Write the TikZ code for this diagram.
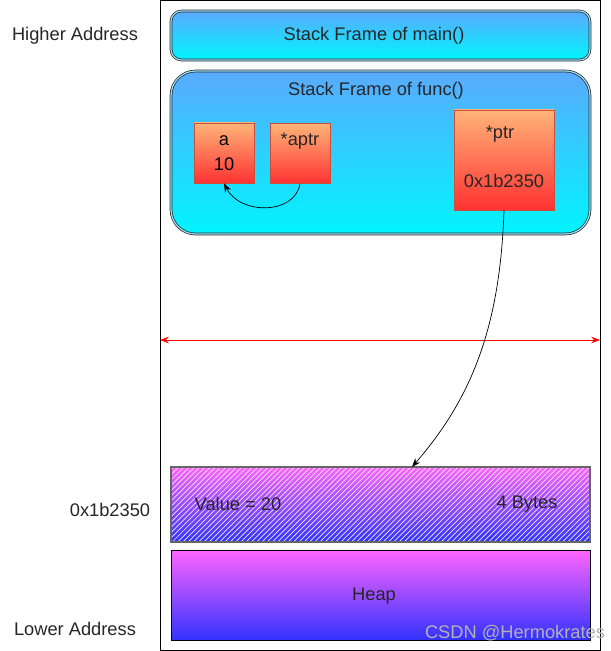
\documentclass[tikz,border=0pt]{standalone}
\usepackage{fontspec}
\setmainfont{Liberation Sans}
\usetikzlibrary{patterns,arrows.meta}
\begin{document}
\begin{tikzpicture}[x=0.02cm,y=-0.02cm,font=\fontsize{10.4}{12}\selectfont,
  frame/.style={draw=black!85,double=cyan!40,double distance=0.7pt,rounded corners=#1,top color={rgb,255:red,90;green,170;blue,255},bottom color={rgb,255:red,0;green,245;blue,255}},
  var/.style={draw={rgb,255:red,200;green,80;blue,60},top color={rgb,255:red,255;green,180;blue,120},bottom color={rgb,255:red,255;green,50;blue,50},minimum width=#1*0.02cm,minimum height=#1*0.02cm,inner sep=0},
  heap/.style={draw=black,top color={rgb,255:red,255;green,100;blue,255},bottom color={rgb,255:red,50;green,50;blue,255}},
  lab/.style={text=black!85}]
\useasboundingbox (0,0) rectangle (610,651);
\draw[black] (160,0) rectangle (600,650);
\draw[frame=6pt] (171,11) rectangle (590,60);
\node[lab] (main) at (374,36) {Stack Frame of main()};
\draw[frame=14pt] (171,71) rectangle (590,234);
\node[lab] (func) at (376,91) {Stack Frame of func()};
\node[var=60,align=center] (a) at (224,153) {a\\[2pt]10};
\node[var=60,anchor=north] (aptr) at (300,123) {};
\node[lab] at (300,141) {*aptr};
\node[var=100] (ptr) at (504,160) {};
\node[lab] at (500,134) {*ptr};
\node[lab] at (504,181) {0x1b2350};
\draw[-{Stealth[length=5pt]}] (aptr.south) .. controls (295,215) and (240,215) .. (a.south);
\draw[{Stealth[length=5pt]}-{Stealth[length=5pt]},red] (160,340) -- (600,340);
\shade[top color={rgb,255:red,255;green,100;blue,255},bottom color={rgb,255:red,50;green,50;blue,255}] (171,467) rectangle (590,542);
\fill[pattern=north east lines,pattern color=white!85!gray] (171,467) rectangle (590,542);
\draw[black!60,line width=0.9pt] (171,467) rectangle (590,542);
\coordinate (val) at (412,467);
\node[lab] at (238,504) {Value = 20};
\node[lab] at (527,504) {4 Bytes};
\draw[-{Stealth[length=5pt]}] (ptr.south) .. controls (500,330) and (470,400) .. (val);
\draw[heap] (171,550) rectangle (590,640);
\node[lab] (heapl) at (374,596) {Heap};
\node[lab] at (75,36) {Higher Address};
\node[lab] at (110,510) {0x1b2350};
\node[lab] at (75,629) {Lower Address};
\node[text=gray!60] at (515,633) {CSDN @Hermokrates};
\end{tikzpicture}
\end{document}
